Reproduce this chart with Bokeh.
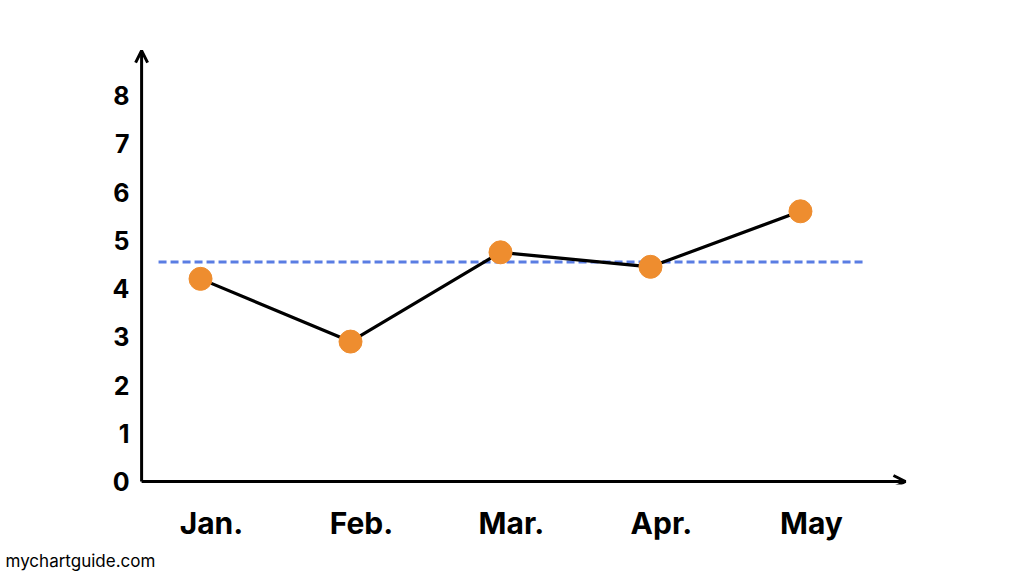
from bokeh.plotting import figure
from bokeh.models import Range1d, FixedTicker, Arrow, OpenHead, Title, ColumnDataSource
from bokeh.embed import file_html
from bokeh.resources import INLINE

# ---- data ----
months = ["Jan.", "Feb.", "Mar.", "Apr.", "May"]
values = [4.2, 2.9, 4.75, 4.45, 5.6]
average = 4.55
y_ticks = [0, 1, 2, 3, 4, 5, 6, 7, 8]

xs = list(range(len(months)))
src = ColumnDataSource(data=dict(x=xs, y=values, month=months))

FONT = "Inter"
LABEL_SHIFT = 0.073  # category labels sit slightly right of the points

p = figure(width=1024, height=576, output_backend="svg", toolbar_location=None,
           x_range=Range1d(-0.467, 4.767), y_range=Range1d(-0.062, 9.14),
           min_border_left=130, min_border_right=109, min_border_top=40, min_border_bottom=92)
p.outline_line_color = None
p.grid.visible = False
p.background_fill_color = "white"
p.border_fill_color = "white"

for ax in (p.xaxis[0], p.yaxis[0]):
    ax.axis_line_color = None
    ax.major_tick_line_color = None
    ax.minor_tick_line_color = None
    ax.major_tick_out = 0
    ax.major_tick_in = 0
    ax.minor_tick_out = 0
    ax.major_label_text_font = FONT
    ax.major_label_text_font_style = "bold"
    ax.major_label_text_color = "black"

tick_pos = [i + LABEL_SHIFT for i in xs]
p.xaxis.ticker = FixedTicker(ticks=tick_pos)
p.xaxis.major_label_overrides = {t: m for t, m in zip(tick_pos, months)}
p.xaxis.major_label_text_font_size = "30px"
p.xaxis.major_label_standoff = 20

p.yaxis.ticker = FixedTicker(ticks=y_ticks)
p.yaxis.major_label_text_font_size = "25px"
p.yaxis.major_label_standoff = 1

# average dashed line
p.line(x=[-0.28, 4.42], y=[average, average], line_color="#5A7DE3", line_width=3, line_dash="8 4")

# data line and points
p.line("x", "y", source=src, line_color="black", line_width=3.2)
p.scatter("x", "y", source=src, size=23, fill_color="#EE8D2F", line_color="#EE8D2F")

# axis arrows
x0 = -0.393
p.add_layout(Arrow(x_start=x0, y_start=0, x_end=x0, y_end=8.93,
                   line_color="black", line_width=3,
                   end=OpenHead(size=12, line_width=3, line_color="black")))
p.add_layout(Arrow(x_start=x0, y_start=0, x_end=4.70, y_end=0,
                   line_color="black", line_width=3,
                   end=OpenHead(size=12, line_width=3, line_color="black")))

p.add_layout(Title(text="mychartguide.com", align="left", offset=-125, standoff=11,
                   text_font=FONT, text_font_size="17px", text_font_style="normal",
                   text_color="black"), "below")

open("out.html", "w").write(file_html(p, INLINE))
